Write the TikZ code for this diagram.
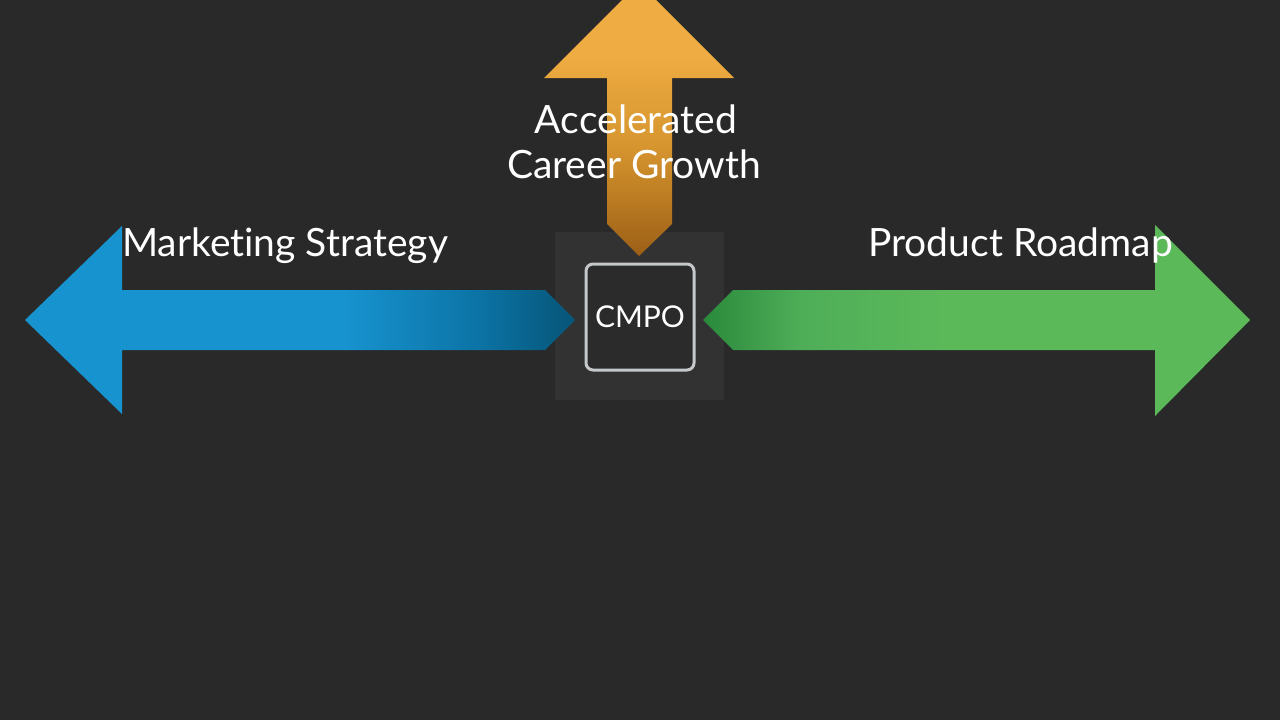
\documentclass[tikz,border=0pt]{standalone}
\usepackage{fontspec}
\setmainfont[Ligatures=NoCommon]{Lato}
\definecolor{bg}{HTML}{292929}
\definecolor{panel}{HTML}{323232}
\definecolor{boxfill}{HTML}{2B2B2B}
\definecolor{boxline}{HTML}{C4C8CA}
\definecolor{blueA}{HTML}{1793CF}
\definecolor{blueB}{HTML}{0C74A6}
\definecolor{blueC}{HTML}{065577}
\definecolor{greenA}{HTML}{2A8A3C}
\definecolor{greenB}{HTML}{4EAE58}
\definecolor{greenC}{HTML}{5CB95A}
\definecolor{orangeA}{HTML}{EEAC42}
\definecolor{orangeB}{HTML}{D6952E}
\definecolor{orangeC}{HTML}{9C5F16}
\pgfdeclarehorizontalshading{blueshade}{100bp}{color(0bp)=(blueA); color(25bp)=(blueA); color(54bp)=(blueA); color(66bp)=(blueB); color(75bp)=(blueC); color(100bp)=(blueC)}
\pgfdeclarehorizontalshading{greenshade}{100bp}{color(0bp)=(greenA); color(25bp)=(greenA); color(34bp)=(greenB); color(47bp)=(greenC); color(75bp)=(greenC); color(100bp)=(greenC)}
\pgfdeclareverticalshading{orangeshade}{100bp}{color(0bp)=(orangeC); color(25bp)=(orangeC); color(45bp)=(orangeB); color(62bp)=(orangeA); color(75bp)=(orangeA); color(100bp)=(orangeA)}
\tikzset{
  label text/.style={text=white, font=\fontsize{39}{46}\selectfont, inner sep=0pt},
}
\begin{document}
\begin{tikzpicture}[x=1pt,y=-1pt]
\useasboundingbox (0,0) rectangle (1280,720);
\fill[bg] (0,0) rectangle (1280,720);
\begin{scope}
\clip (0,0) rectangle (1280,720);
% central panel
\fill[panel] (555,232) rectangle (724,400);
% blue arrow (left)
\shade[shading=blueshade] (25,320) -- (122,226) -- (122,290) -- (545,290) -- (575,320) -- (545,350) -- (122,350) -- (122,414) -- cycle;
% green arrow (right)
\shade[shading=greenshade] (703,320) -- (733,290) -- (1155,290) -- (1155,225) -- (1250,320) -- (1155,416) -- (1155,350) -- (733,350) -- cycle;
% orange arrow (up)
\shade[shading=orangeshade] (639,-17) -- (734,78) -- (672,78) -- (672,224) -- (639,256) -- (607,224) -- (607,78) -- (544,78) -- cycle;
\end{scope}
% CMPO box
\node[draw=boxline, line width=3pt, fill=boxfill, rounded corners=7pt, minimum width=108pt, minimum height=106pt, text=white, font=\fontsize{30}{36}\selectfont] (cmpo) at (640,317) {CMPO};
% labels
\node[label text, anchor=base west] (mkt) at (122,256) {Marketing Strategy};
\node[label text, anchor=base west] (prod) at (868,256) {Product Roadmap};
\node[label text, anchor=base] (acc) at (636,133) {Accelerated};
\node[label text, anchor=base] (car) at (634,178) {Career Growth};
\end{tikzpicture}
\end{document}
